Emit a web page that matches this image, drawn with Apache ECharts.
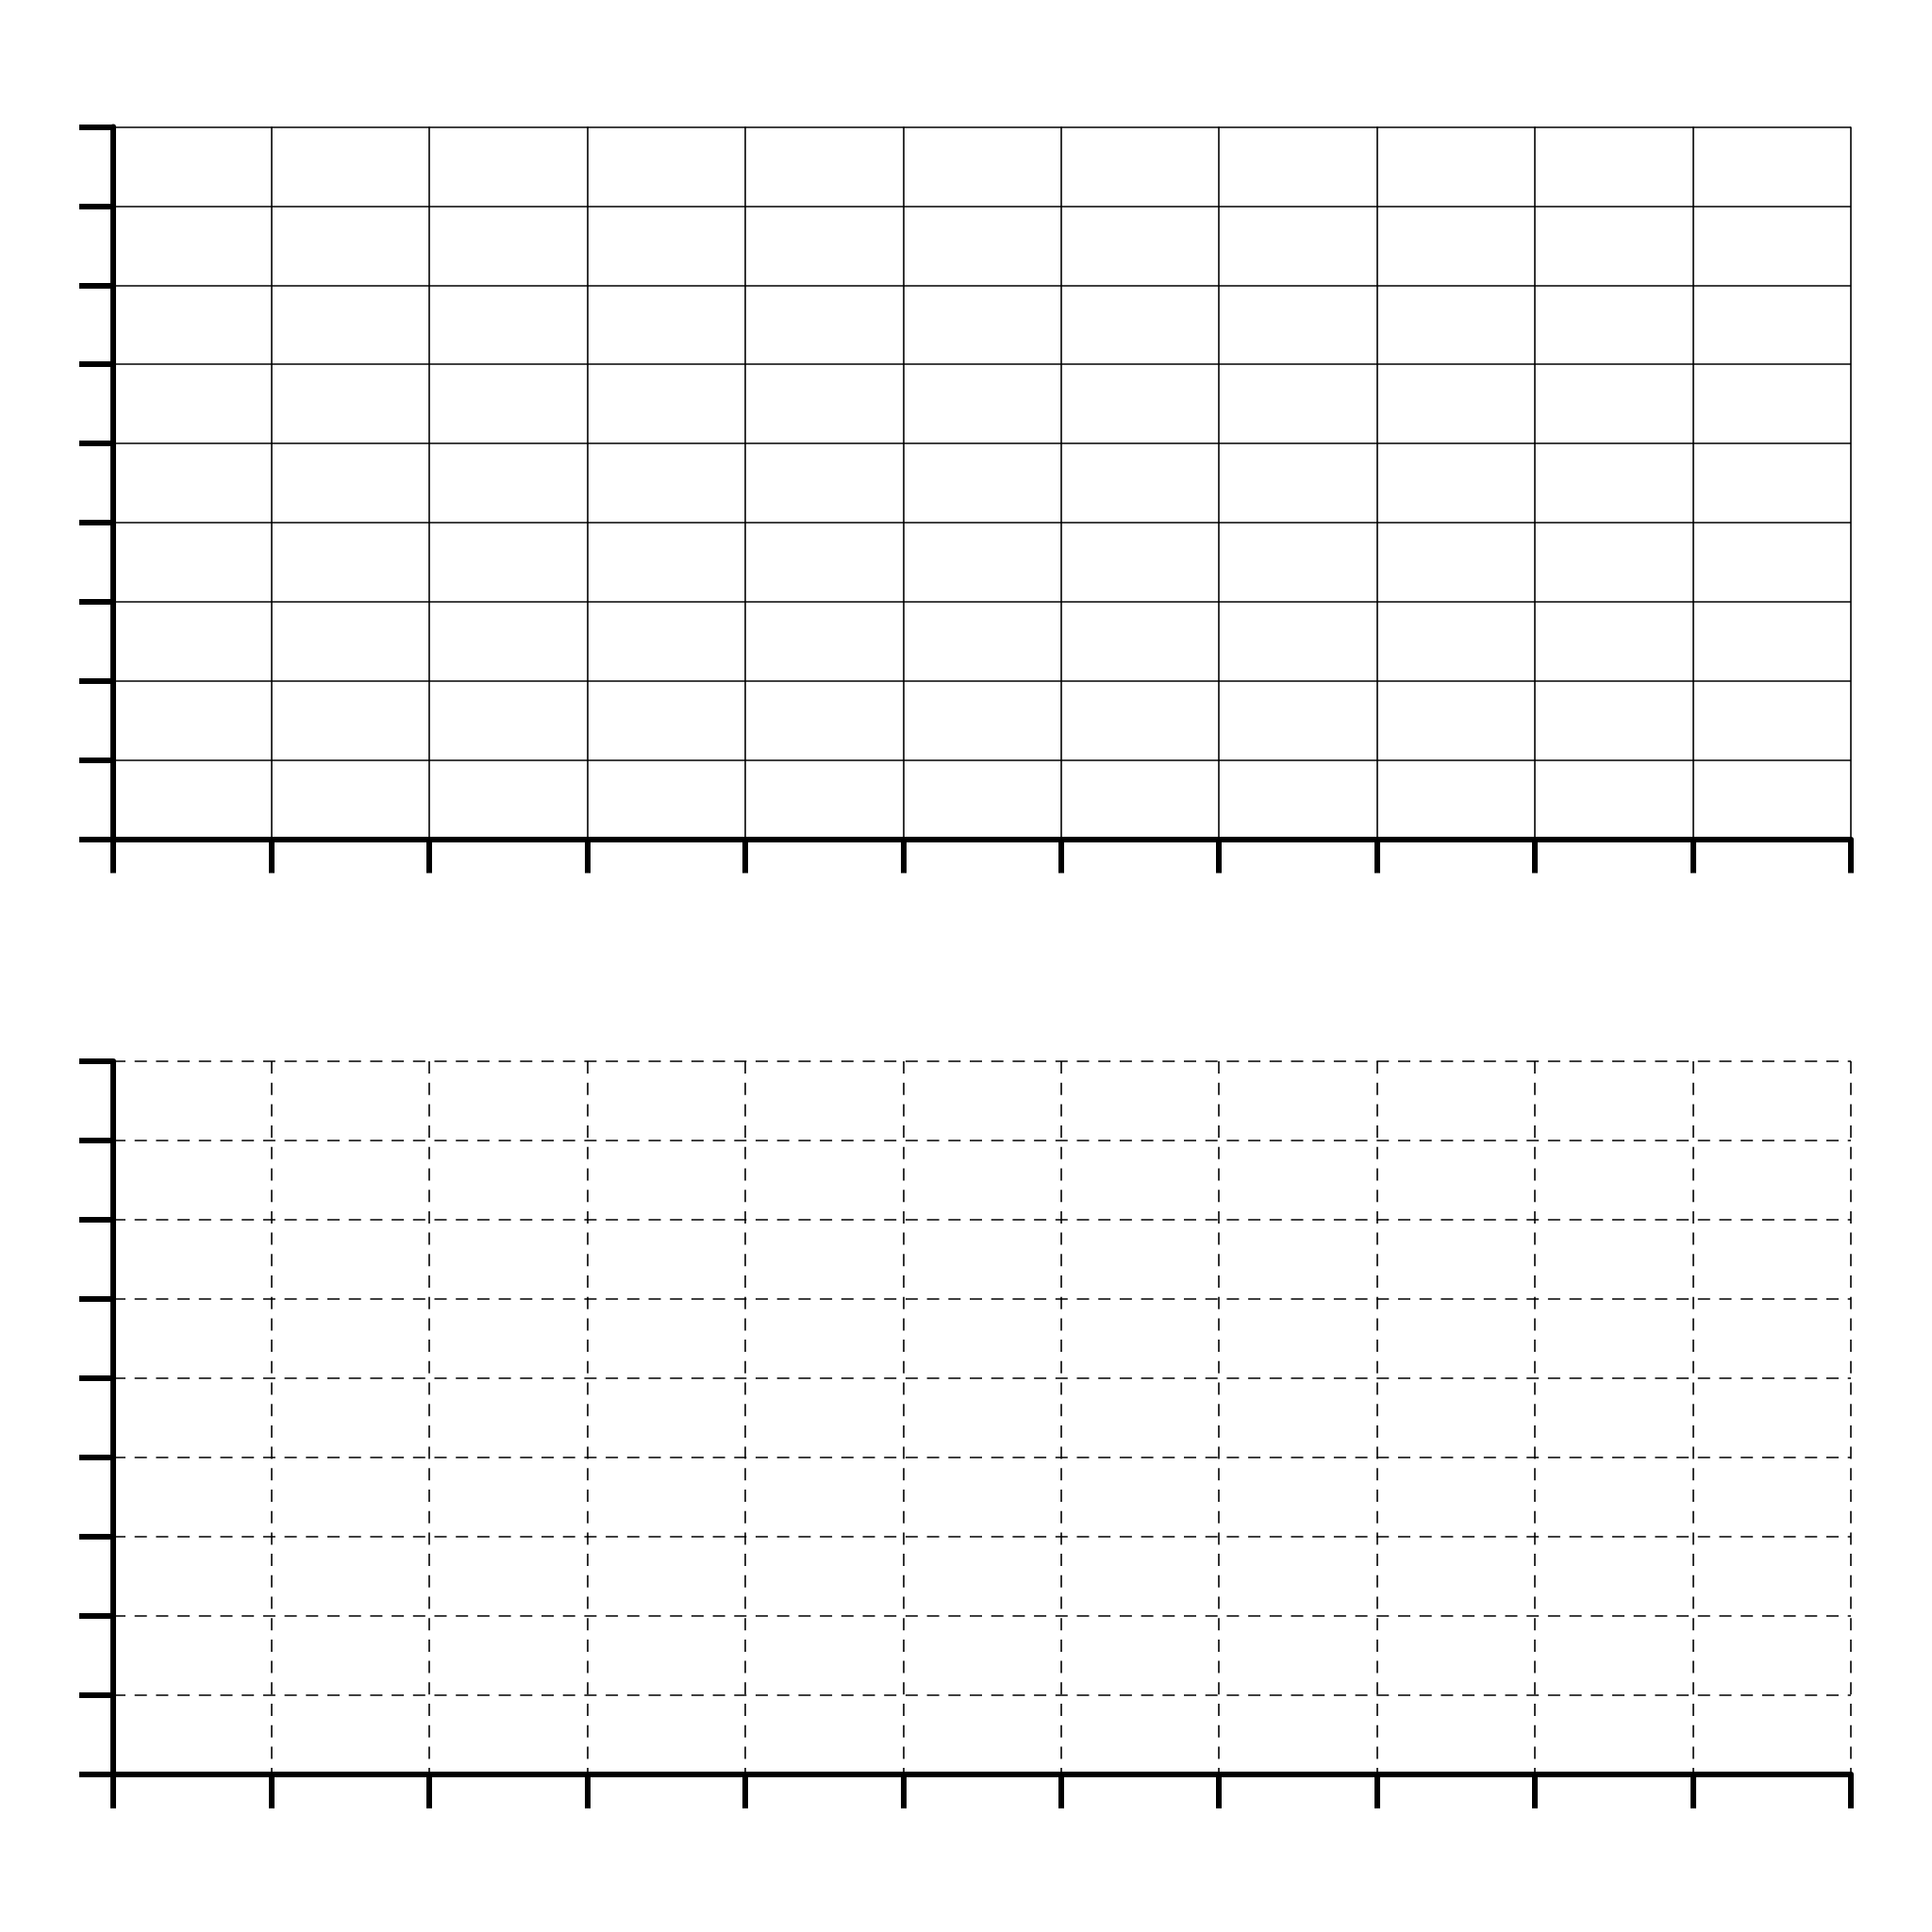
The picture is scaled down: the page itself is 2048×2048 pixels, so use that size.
<!DOCTYPE html>
<html>
<head>
<meta charset="utf-8">
<script src="https://cdn.jsdelivr.net/npm/echarts@6/dist/echarts.min.js"></script>
<style>html,body{margin:0;padding:0;background:#fff;}#c{width:2048px;height:2048px;}</style>
</head>
<body>
<div id="c"></div>
<script>
const xMin = 0, xMax = 11, xStep = 1;
const yMin = 0, yMax = 9, yStep = 1;
const panels = ['solid', 'dashed'];

const chart = echarts.init(document.getElementById('c'), null, {renderer: 'canvas'});
const grids = [
  {left: 120, top: 134.5, width: 1842, height: 755},
  {left: 120, top: 1125, width: 1842, height: 756}
];
function axisCommon(min, max, step, gi, type) {
  return {
    type: 'value', gridIndex: gi, min: min, max: max, interval: step,
    axisLine: {show: true, onZero: false, lineStyle: {color: '#000', width: 6}},
    axisTick: {show: true, length: 36, lineStyle: {color: '#000', width: 6}},
    axisLabel: {show: false},
    splitLine: {show: true, lineStyle: {
      color: '#000',
      width: 1.6,
      type: type === 'solid' ? 'solid' : [13, 9.7]
    }}
  };
}
const xAxes = panels.map((t, i) => axisCommon(xMin, xMax, xStep, i, t));
const yAxes = panels.map((t, i) => axisCommon(yMin, yMax, yStep, i, t));
chart.setOption({
  animation: false,
  backgroundColor: '#fff',
  grid: grids,
  xAxis: xAxes,
  yAxis: yAxes,
  series: panels.map((t, i) => ({type: 'line', xAxisIndex: i, yAxisIndex: i, data: []}))
});
</script>
</body>
</html>
